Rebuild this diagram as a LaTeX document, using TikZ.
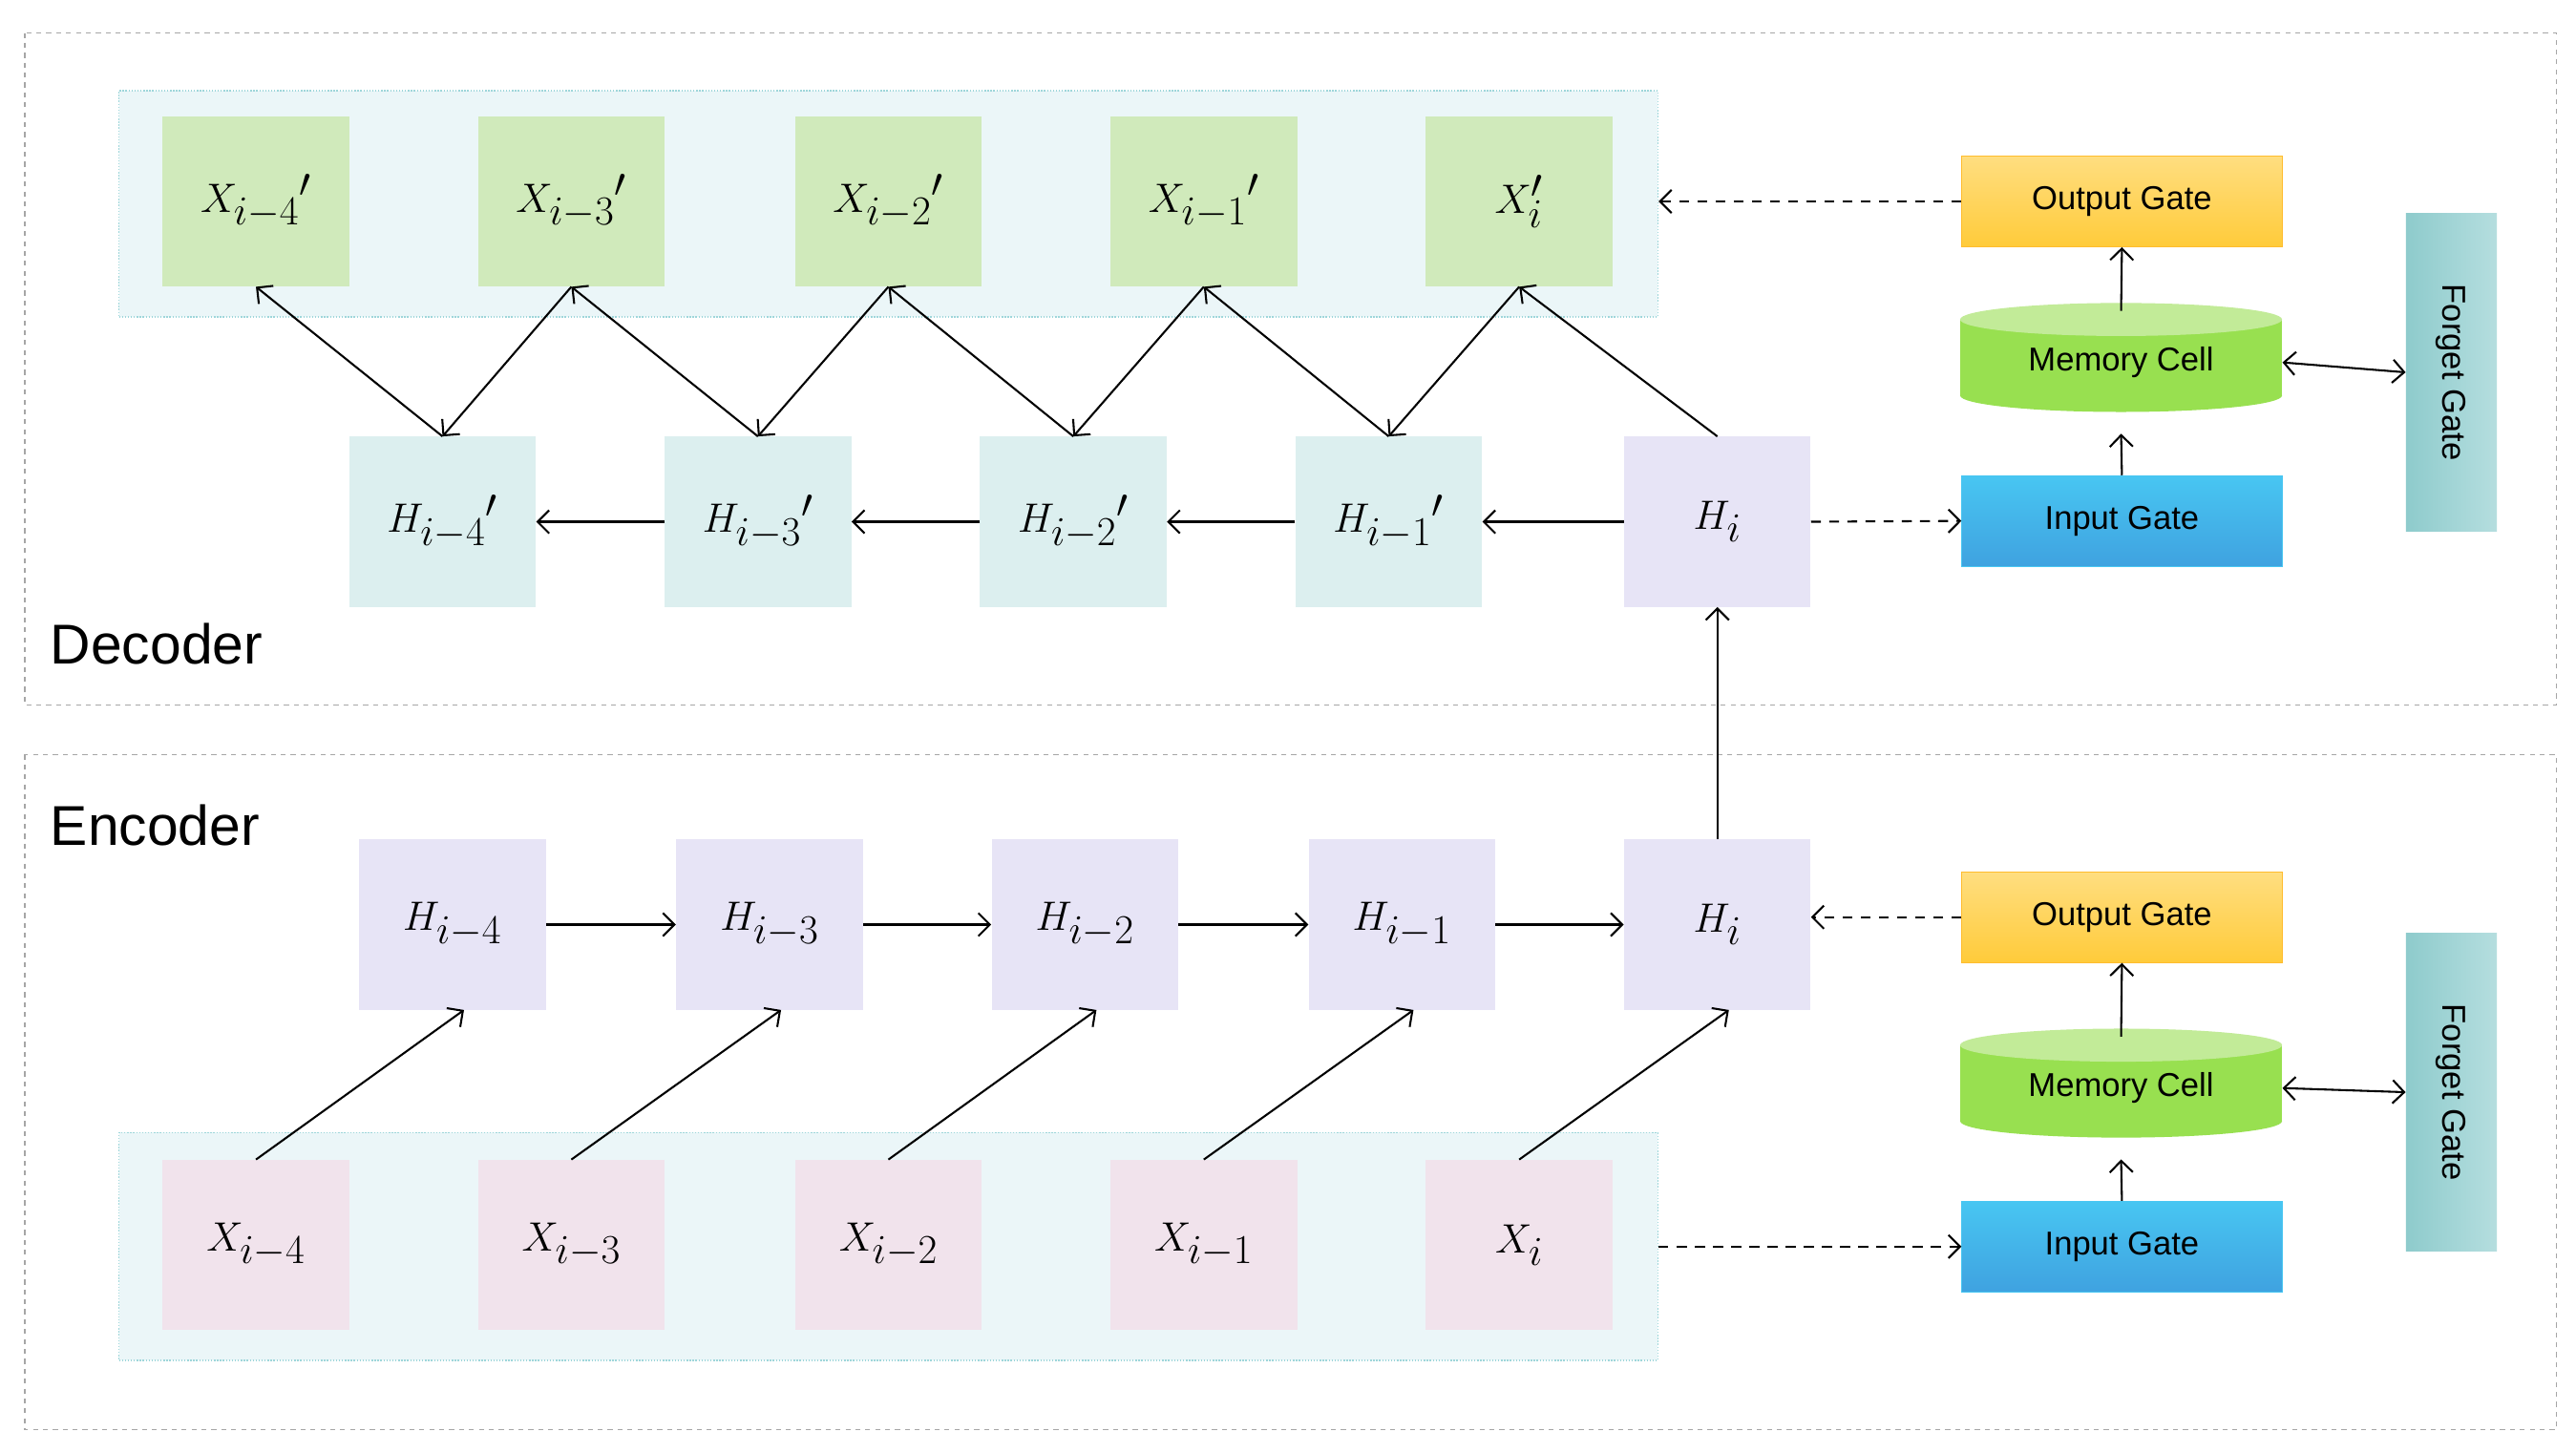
\documentclass[tikz,border=0pt]{standalone}
\usepackage{fontspec}
\setmainfont{Liberation Sans}
\usetikzlibrary{arrows.meta}
\definecolor{xg}{HTML}{D0EABB}
\definecolor{hc}{HTML}{DCEFEF}
\definecolor{hl}{HTML}{E7E4F6}
\definecolor{xp}{HTML}{F1E3EC}
\definecolor{cont}{HTML}{EBF6F8}
\definecolor{contb}{HTML}{9ED6DA}
\definecolor{og1}{HTML}{FFDE80}
\definecolor{og2}{HTML}{FFCB3A}
\definecolor{ig1}{HTML}{48C6F2}
\definecolor{ig2}{HTML}{3FA2E0}
\definecolor{mc}{HTML}{98E050}
\definecolor{mct}{HTML}{C2EB98}
\definecolor{fg1}{HTML}{8ECBCC}
\definecolor{fg2}{HTML}{B5DEDF}
\begin{document}
\begin{tikzpicture}[x=1pt,y=-1pt,
  box/.style={minimum width=113pt,minimum height=103pt,inner sep=0pt,font=\fontsize{40}{44}\selectfont},
  ar/.style={line width=1.2pt,-{Straight Barb[length=7pt,width=14pt]}},
  da/.style={ar,dash pattern=on 6pt off 5pt},
  gate/.style={minimum width=194pt,minimum height=55pt,inner sep=0pt,font=\fontsize{20}{24}\selectfont},
  frame/.style={draw=gray!70,dashed,line width=0.8pt},
  cont/.style={fill=cont,draw=contb,densely dotted,line width=0.8pt}]
\useasboundingbox (0,0) rectangle (1560,880);
\fill[white] (0,0) rectangle (1560,880);
% frames
\draw[frame] (15,20) rectangle (1548,427);
\draw[frame] (15,457) rectangle (1548,866);
\node[anchor=west,font=\fontsize{34}{38}\selectfont] (dec) at (27,390) {Decoder};
\node[anchor=west,font=\fontsize{34}{38}\selectfont] (enc) at (27,500) {Encoder};
% containers
\node[cont,minimum width=932pt,minimum height=137pt,inner sep=0pt] (dcont) at (538,123.5) {};
\node[cont,minimum width=932pt,minimum height=138pt,inner sep=0pt] (econt) at (538,755) {};
% decoder X'
\node[box,fill=xg] (dx1) at (155,122) {$X_{i-4}{}'$};
\node[box,fill=xg] (dx2) at (346,122) {$X_{i-3}{}'$};
\node[box,fill=xg] (dx3) at (538,122) {$X_{i-2}{}'$};
\node[box,fill=xg] (dx4) at (729,122) {$X_{i-1}{}'$};
\node[box,fill=xg] (dx5) at (920,122) {$X_{i}'$};
% decoder H'
\node[box,fill=hc] (dh1) at (268,316) {$H_{i-4}{}'$};
\node[box,fill=hc] (dh2) at (459,316) {$H_{i-3}{}'$};
\node[box,fill=hc] (dh3) at (650,316) {$H_{i-2}{}'$};
\node[box,fill=hc] (dh4) at (841,316) {$H_{i-1}{}'$};
\node[box,fill=hl] (dh5) at (1040,316) {$H_{i}$};
% encoder H
\node[box,fill=hl] (eh1) at (274,560) {$H_{i-4}$};
\node[box,fill=hl] (eh2) at (466,560) {$H_{i-3}$};
\node[box,fill=hl] (eh3) at (657,560) {$H_{i-2}$};
\node[box,fill=hl] (eh4) at (849,560) {$H_{i-1}$};
\node[box,fill=hl] (eh5) at (1040,560) {$H_{i}$};
% encoder X
\node[box,fill=xp] (ex1) at (155,754) {$X_{i-4}$};
\node[box,fill=xp] (ex2) at (346,754) {$X_{i-3}$};
\node[box,fill=xp] (ex3) at (538,754) {$X_{i-2}$};
\node[box,fill=xp] (ex4) at (729,754) {$X_{i-1}$};
\node[box,fill=xp] (ex5) at (920,754) {$X_{i}$};
% decoder arrows
\foreach \k in {1,...,5}{\draw[ar] (dh\k.north) -- (dx\k.south);}
\foreach \k/\j in {1/2,2/3,3/4,4/5}{
  \draw[ar] (dx\j.south) -- (dh\k.north);
  \draw[ar] (dh\j.west) -- (dh\k.east);
  \draw[ar] (eh\k.east) -- (eh\j.west);}
\foreach \k in {1,...,5}{\draw[ar] (ex\k.north) -- ([xshift=7pt]eh\k.south);}
\draw[ar] (eh5.north) -- (dh5.south);
% gates
\foreach \p/\yo/\ym/\yi/\yf/\hf in {d/122/216.5/315.5/225.5/193, e/555.5/656/755/661.5/193}{
  \node[gate,top color=og1,bottom color=og2,draw=og2!80!orange] (\p og) at (1285,\yo) {Output Gate};
  \node[gate,top color=ig1,bottom color=ig2,draw=ig1] (\p ig) at (1285,\yi) {Input Gate};
  \fill[mc] (1187,\ym-23) rectangle (1382,\ym+23);
  \fill[mc] (1284.5,\ym+23) ellipse (97.5pt and 10pt);
  \fill[mct] (1284.5,\ym-23) ellipse (97.5pt and 10pt);
  \node[minimum width=195pt,minimum height=66pt,inner sep=0pt,font=\fontsize{20}{24}\selectfont] (\p mc) at (1284.5,\ym+3) {Memory Cell};
  \node[minimum width=55pt,minimum height=\hf pt,inner sep=0pt,left color=fg1,right color=fg2] (\p fg) at (1484.5,\yf) {};
  \node[rotate=-90,font=\fontsize{20}{24}\selectfont] (\p fgt) at (1484.5,\yf) {Forget Gate};
  \draw[ar] (\p ig.north) -- ([yshift=-10pt]\p mc.south);
  \draw[ar] ([yshift=-2pt]\p mc.north) -- (\p og.south);
  \draw[ar,{Straight Barb[length=7pt,width=14pt]}-{Straight Barb[length=7pt,width=14pt]}] (\p mc.east) -- (\p fg.west);
}
\draw[da] (dh5.east) -- (dig.west);
\draw[da] (dog.west) -- (dcont.east |- dog.west);
\draw[da] (eog.west) -- (eh5.east |- eog.west);
\draw[da] (econt.east) -- (eig.west);
\end{tikzpicture}
\end{document}
